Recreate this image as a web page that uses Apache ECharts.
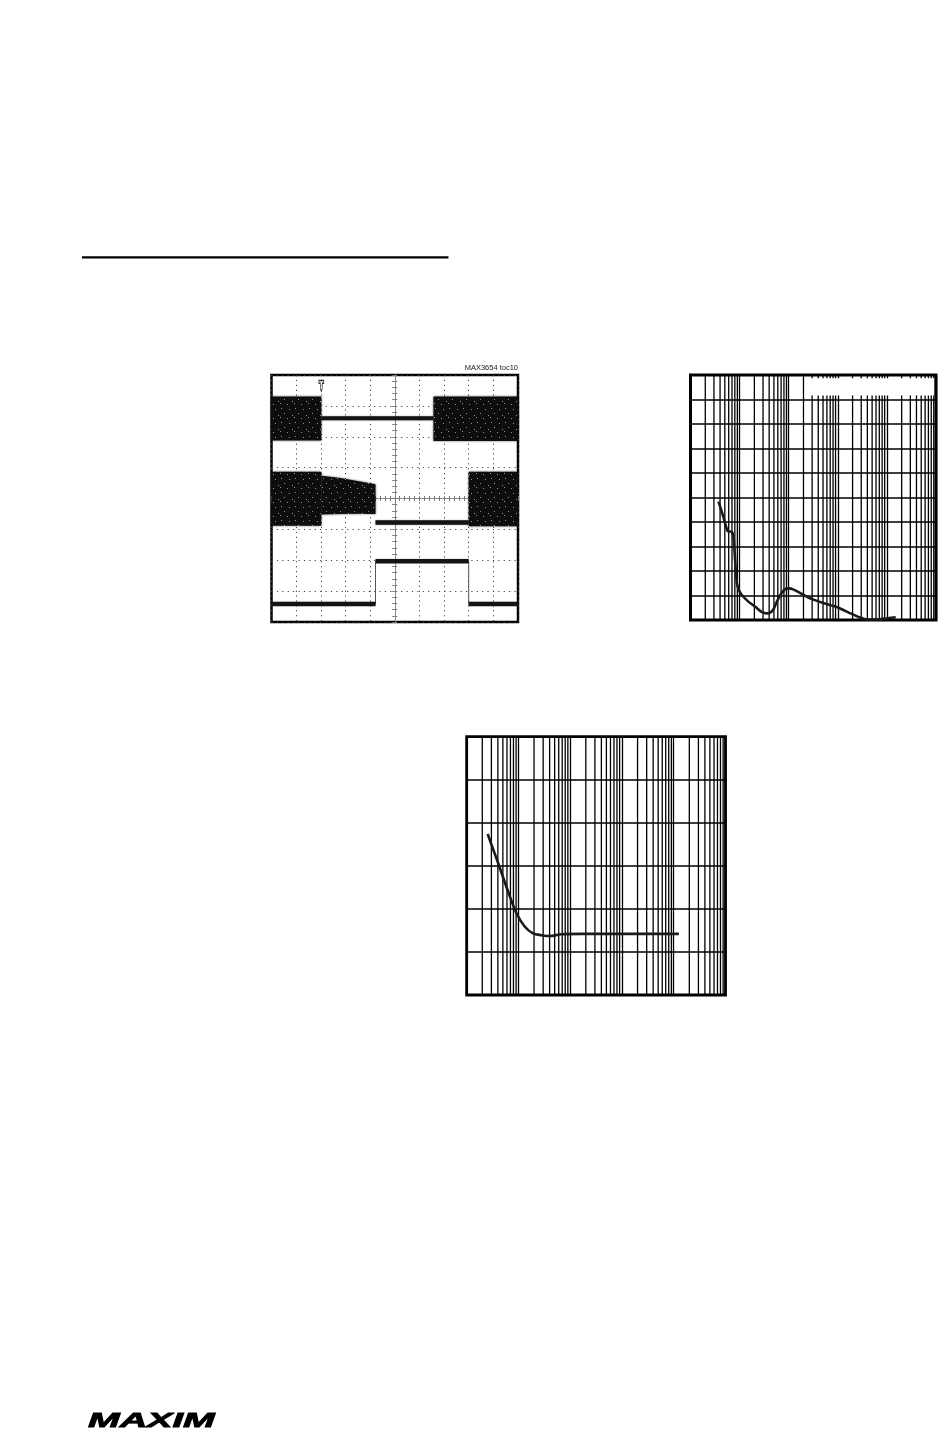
<!DOCTYPE html>
<html><head><meta charset="utf-8">
<script src="https://cdn.jsdelivr.net/npm/echarts@6/dist/echarts.min.js"></script>
<style>html,body{margin:0;padding:0;background:#fff}#c{width:938px;height:1440px}</style>
</head><body><div id="c"></div>
<script>
// ---------- Scope capture (MAX3654 toc10) : units are screen divisions from centre ----------
const ch1Burst = [[-5, -2.98, 1.88, 3.30], [1.57, 5, 1.86, 3.30]];   // [x0, x1, low, high]
const ch1Idle  = [[-2.98, 1.57, 2.60]];                               // [x0, x1, y]
const ch2Burst = [[-5, -2.98, -0.88, 0.87], [3.00, 5, -0.90, 0.87]];
const ch2Decay = [[-2.98, 0.74, -0.52], [-2.2, 0.66, -0.50], [-1.4, 0.55, -0.49], [-0.78, 0.46, -0.50]]; // [x, high, low]
const ch2Idle  = [[-0.78, 3.00, -0.78]];
const ch3Level = [[-5, -0.78, -3.42], [-0.78, 3.00, -2.03], [3.00, 5, -3.42]];
const trigger  = [[-2.98, 4]];
const scopeTag = 'MAX3654 toc10';

// ---------- Log plot, top right ----------
const c2Freq = [3.72, 4.68, 5.75, 6.92, 7.55, 8.13, 8.81, 9.77, 11.1, 15.1, 20.9, 28.2, 36.1, 42.7, 49.4, 57.5, 67.6, 83.2, 100, 126, 176, 240, 331, 525, 977, 1820, 2820, 3980, 6460, 10200, 15100];
const c2Val  = [4.83, 4.20, 3.62, 3.60, 3.35, 2.40, 1.50, 1.20, 1.02, 0.75, 0.54, 0.33, 0.27, 0.31, 0.45, 0.75, 1.02, 1.25, 1.29, 1.24, 1.09, 0.94, 0.82, 0.68, 0.52, 0.27, 0.10, 0.02, 0.02, 0.07, 0.11];
const c2Mask = [[219, 9.16, 91000, 9.87]];   // blank legend box [x0, y0, x1, y1]

// ---------- Log plot, bottom ----------
const c3Freq = [2.54, 4.06, 6.32, 9.16, 13.2, 19.1, 27.7, 40.1, 67.1, 162, 708, 3090, 12600];
const c3Val  = [3.74, 3.06, 2.40, 1.90, 1.59, 1.43, 1.39, 1.37, 1.41, 1.42, 1.42, 1.42, 1.42];

const logoText = 'MAXIM';

// minor log grid positions (2..9 x decade)
const minorLog = [];
for (let n = 0; n < 5; n++) for (let k = 2; k <= 9; k++) minorLog.push([k * Math.pow(10, n)]);

// fixed, sparse speckle texture for the noisy scope bands (deterministic pattern)
const speckle = document.createElement('canvas');
speckle.width = 14; speckle.height = 14;
(function () {
  const g = speckle.getContext('2d');
  g.fillStyle = '#0e0e0e'; g.fillRect(0, 0, 14, 14);
  g.fillStyle = 'rgba(255,255,255,0.55)';
  [[1,2],[9,3],[4,7],[12,9],[7,12],[0,11]].forEach(p => g.fillRect(p[0], p[1], 1, 1));
})();
const BAND_FILL = {image: speckle, repeat: 'repeat'};

const chart = echarts.init(document.getElementById('c'), null, {renderer: 'canvas'});
const INK = '#141414';

function bandItem(p, api) {
  const a = api.coord([api.value(0), api.value(3)]);
  const b = api.coord([api.value(1), api.value(2)]);
  return {type: 'rect', shape: {x: a[0], y: a[1], width: b[0] - a[0], height: b[1] - a[1]},
    style: {fill: BAND_FILL, shadowBlur: 2, shadowColor: 'rgba(0,0,0,0.6)'}};
}
function idleItem(w) {
  return function (p, api) {
    const a = api.coord([api.value(0), api.value(2)]);
    const b = api.coord([api.value(1), api.value(2)]);
    return {type: 'line', shape: {x1: a[0], y1: a[1], x2: b[0], y2: b[1]},
      style: {stroke: INK, lineWidth: w, shadowBlur: 1.5, shadowColor: 'rgba(0,0,0,0.5)'}};
  };
}
function vGrid(ymax) {
  return function (p, api) {
    const a = api.coord([api.value(0), 0]);
    const b = api.coord([api.value(0), ymax]);
    return {type: 'line', shape: {x1: a[0], y1: a[1], x2: b[0], y2: b[1]}, style: {stroke: '#000', lineWidth: 1.3}};
  };
}

const ch3Path = [];
ch3Level.forEach(s => { ch3Path.push([s[0], s[2]]); ch3Path.push([s[1], s[2]]); });

const scopeAxisCommon = {
  axisLabel: {show: false},
  axisLine: {show: true, onZero: true, lineStyle: {color: '#888', width: 1}},
  axisTick: {show: true, length: 2.5, lineStyle: {color: '#777', width: 1}},
  minorTick: {show: true, splitNumber: 5, length: 2.5, lineStyle: {color: '#777', width: 1}}
};

const option = {
  backgroundColor: '#fff',
  animation: false,
  title: {text: scopeTag, right: 420, top: 364, padding: 0,
    textStyle: {fontSize: 7.5, fontWeight: 'normal', color: '#222', fontFamily: 'Liberation Sans'}},
  grid: [
    {left: 271.5, top: 375, width: 246.5, height: 247, show: true, borderColor: '#000', borderWidth: 2.5, backgroundColor: '#fff'},
    {left: 690.5, top: 375, width: 245.5, height: 245, show: true, borderColor: '#000', borderWidth: 3, backgroundColor: '#fff'},
    {left: 466.7, top: 736.7, width: 258.8, height: 258.3, show: true, borderColor: '#000', borderWidth: 2.8, backgroundColor: '#fff'}
  ],
  xAxis: [
    Object.assign({}, scopeAxisCommon, {gridIndex: 0, type: 'value', min: -5, max: 5, interval: 1, position: 'bottom',
      splitLine: {show: true, lineStyle: {color: '#444', width: 1, type: [1.2, 3.7]}}}),
    Object.assign({}, scopeAxisCommon, {gridIndex: 0, type: 'value', min: -5, max: 5, interval: 1, position: 'top',
      axisLine: {show: true, onZero: true, onZeroAxisIndex: 0, lineStyle: {color: '#888', width: 1}},
      splitLine: {show: false}}),
    {gridIndex: 1, type: 'log', logBase: 10, min: 1, max: 100000, axisLabel: {show: false}, axisTick: {show: false},
      axisLine: {show: false}, splitLine: {show: true, lineStyle: {color: '#000', width: 1.3}}},
    {gridIndex: 2, type: 'log', logBase: 10, min: 1, max: 100000, axisLabel: {show: false}, axisTick: {show: false},
      axisLine: {show: false}, splitLine: {show: true, lineStyle: {color: '#000', width: 1.3}}}
  ],
  yAxis: [
    Object.assign({}, scopeAxisCommon, {gridIndex: 0, type: 'value', min: -4, max: 4, interval: 1, position: 'left',
      splitLine: {show: true, lineStyle: {color: '#444', width: 1, type: [1.2, 4.2]}}}),
    Object.assign({}, scopeAxisCommon, {gridIndex: 0, type: 'value', min: -4, max: 4, interval: 1, position: 'right',
      axisLine: {show: true, onZero: true, onZeroAxisIndex: 0, lineStyle: {color: '#888', width: 1}},
      splitLine: {show: false}}),
    {gridIndex: 1, type: 'value', min: 0, max: 10, interval: 1, axisLabel: {show: false}, axisTick: {show: false},
      axisLine: {show: false}, splitLine: {show: true, lineStyle: {color: '#000', width: 1.5}}},
    {gridIndex: 2, type: 'value', min: 0, max: 6, interval: 1, axisLabel: {show: false}, axisTick: {show: false},
      axisLine: {show: false}, splitLine: {show: true, lineStyle: {color: '#000', width: 1.5}}}
  ],
  series: [
    // scope traces
    {type: 'custom', name: 'ch1 burst', xAxisIndex: 0, yAxisIndex: 0, data: ch1Burst, renderItem: bandItem, z: 3},
    {type: 'custom', name: 'ch1 idle', xAxisIndex: 0, yAxisIndex: 0, data: ch1Idle, renderItem: idleItem(4), z: 3},
    {type: 'custom', name: 'ch2 burst', xAxisIndex: 0, yAxisIndex: 0, data: ch2Burst, renderItem: bandItem, z: 3},
    {type: 'custom', name: 'ch2 decay', xAxisIndex: 0, yAxisIndex: 0, data: ch2Decay, z: 3,
      renderItem: function (p, api) {
        if (p.dataIndex !== 0) return null;
        const pts = [];
        ch2Decay.forEach(d => pts.push(api.coord([d[0], d[1]])));
        for (let i = ch2Decay.length - 1; i >= 0; i--) pts.push(api.coord([ch2Decay[i][0], ch2Decay[i][2]]));
        return {type: 'polygon', shape: {points: pts}, style: {fill: BAND_FILL, shadowBlur: 2.5, shadowColor: 'rgba(0,0,0,0.6)'}};
      }},
    {type: 'custom', name: 'ch2 idle', xAxisIndex: 0, yAxisIndex: 0, data: ch2Idle, renderItem: idleItem(4.5), z: 3},
    {type: 'line', name: 'ch3 edges', xAxisIndex: 0, yAxisIndex: 0, data: ch3Path, symbol: 'none',
      lineStyle: {color: '#555', width: 1}, z: 3},
    {type: 'custom', name: 'ch3 level', xAxisIndex: 0, yAxisIndex: 0, data: ch3Level, renderItem: idleItem(4.5), z: 4},
    {type: 'scatter', name: 'trigger', xAxisIndex: 0, yAxisIndex: 0, data: trigger, z: 5,
      symbol: 'path://M0,0 H8 V3 H5.5 V9 L4,12 L2.5,9 V3 H0 Z', symbolSize: [5, 11], symbolOffset: [0, 11],
      itemStyle: {color: '#fff', borderColor: '#000', borderWidth: 1}},

    // top-right log plot
    {type: 'custom', name: 'c2 minor grid', xAxisIndex: 2, yAxisIndex: 2, data: minorLog, renderItem: vGrid(10), z: 1, silent: true},
    {type: 'custom', name: 'c2 mask', xAxisIndex: 2, yAxisIndex: 2, data: c2Mask, z: 2, silent: true,
      renderItem: function (p, api) {
        const a = api.coord([api.value(0), api.value(3)]);
        const b = api.coord([api.value(2), api.value(1)]);
        return {type: 'rect', shape: {x: a[0], y: a[1], width: b[0] - a[0], height: b[1] - a[1]}, style: {fill: '#fff'}};
      }},
    {type: 'line', name: 'c2 curve', xAxisIndex: 2, yAxisIndex: 2, data: c2Freq.map((f, i) => [f, c2Val[i]]),
      symbol: 'none', smooth: 0.2, lineStyle: {color: '#1a1a1a', width: 2.6}, z: 4},

    // bottom log plot
    {type: 'custom', name: 'c3 minor grid', xAxisIndex: 3, yAxisIndex: 3, data: minorLog, renderItem: vGrid(6), z: 1, silent: true},
    {type: 'line', name: 'c3 curve', xAxisIndex: 3, yAxisIndex: 3, data: c3Freq.map((f, i) => [f, c3Val[i]]),
      symbol: 'none', smooth: 0.3, lineStyle: {color: '#1a1a1a', width: 2.6}, z: 4}
  ],
  graphic: [
    {type: 'line', shape: {x1: 82, y1: 257.3, x2: 448.5, y2: 257.3}, style: {stroke: '#000', lineWidth: 2.2}},
    {type: 'text', x: 88, y: 1411, scaleX: 1.9, scaleY: 1, originX: 0, originY: 0,
      style: {text: logoText, font: 'italic 900 20px "Liberation Sans"', fill: '#000', stroke: '#000', lineWidth: 0.8, textVerticalAlign: 'top'}}
  ]
};
chart.setOption(option);
</script>
</body></html>
